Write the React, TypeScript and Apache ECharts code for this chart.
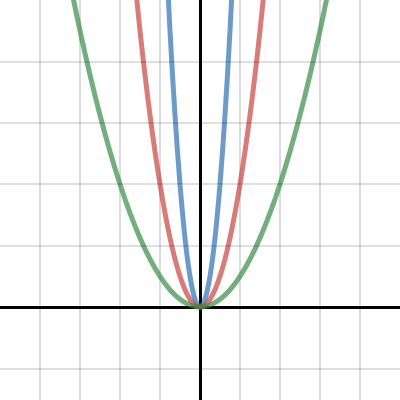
import * as echarts from 'echarts'
import React, { useEffect, useRef } from 'react'

const heights = [12.25, 9, 6.25, 4, 2.25, 1, 0.25, 0, 0.25, 1, 2.25, 4, 6.25, 9, 12.25]
const greenX = [-3.5, -3, -2.5, -2, -1.5, -1, -0.5, 0, 0.5, 1, 1.5, 2, 2.5, 3, 3.5]
const redX = [-1.75, -1.5, -1.25, -1, -0.75, -0.5, -0.25, 0, 0.25, 0.5, 0.75, 1, 1.25, 1.5, 1.75]
const blueX = [-0.875, -0.75, -0.625, -0.5, -0.375, -0.25, -0.125, 0, 0.125, 0.25, 0.375, 0.5, 0.625, 0.75, 0.875]

// horizontal grid lines
const yGrid = [-2, 2, 4, 6, 8]

const curves = [
  { name: 'blue', xs: blueX, color: '#2d70b3' },
  { name: 'red', xs: redX, color: '#c74440' },
  { name: 'green', xs: greenX, color: '#388c46' },
]

const gridColor = 'rgba(0,0,0,0.17)'

export default function App() {
  const chartRef = useRef(null)

  useEffect(() => {
    const chart = echarts.init(chartRef.current, null, { renderer: 'svg' })

    chart.setOption({
      animation: false,
      grid: { left: 0, right: 0, top: 0, bottom: 0 },
      xAxis: {
        type: 'value',
        min: -5,
        max: 5,
        interval: 1,
        axisLabel: { show: false },
        axisTick: { show: false },
        axisLine: { show: true, onZero: true, lineStyle: { color: '#000', width: 3 } },
        splitLine: {
          show: true,
          showMinLine: false,
          showMaxLine: false,
          lineStyle: { color: gridColor, width: 1.7 },
        },
      },
      yAxis: {
        type: 'value',
        min: -3.03,
        max: 10,
        axisLabel: { show: false },
        axisTick: { show: false },
        axisLine: { show: true, onZero: true, lineStyle: { color: '#000', width: 3 } },
        splitLine: { show: false },
      },
      series: [
        {
          name: 'grid',
          type: 'line',
          data: [],
          silent: true,
          z: 0,
          markLine: {
            silent: true,
            symbol: 'none',
            label: { show: false },
            lineStyle: { color: gridColor, width: 1.7, type: 'solid' },
            data: yGrid.map((v) => ({ yAxis: v })),
          },
        },
        ...curves.map((c) => ({
          name: c.name,
          type: 'line',
          data: c.xs.map((x, i) => [x, heights[i]]),
          smooth: 0.35,
          symbol: 'none',
          clip: true,
          lineStyle: { color: c.color, width: 5, opacity: 0.7 },
        })),
      ],
    })

    return () => {
      chart.dispose()
    }
  }, [])

  return (
    <div
      ref={chartRef}
      style={{ position: 'absolute', left: 0, top: 0, width: '400px', height: '400px' }}
    />
  )
}
